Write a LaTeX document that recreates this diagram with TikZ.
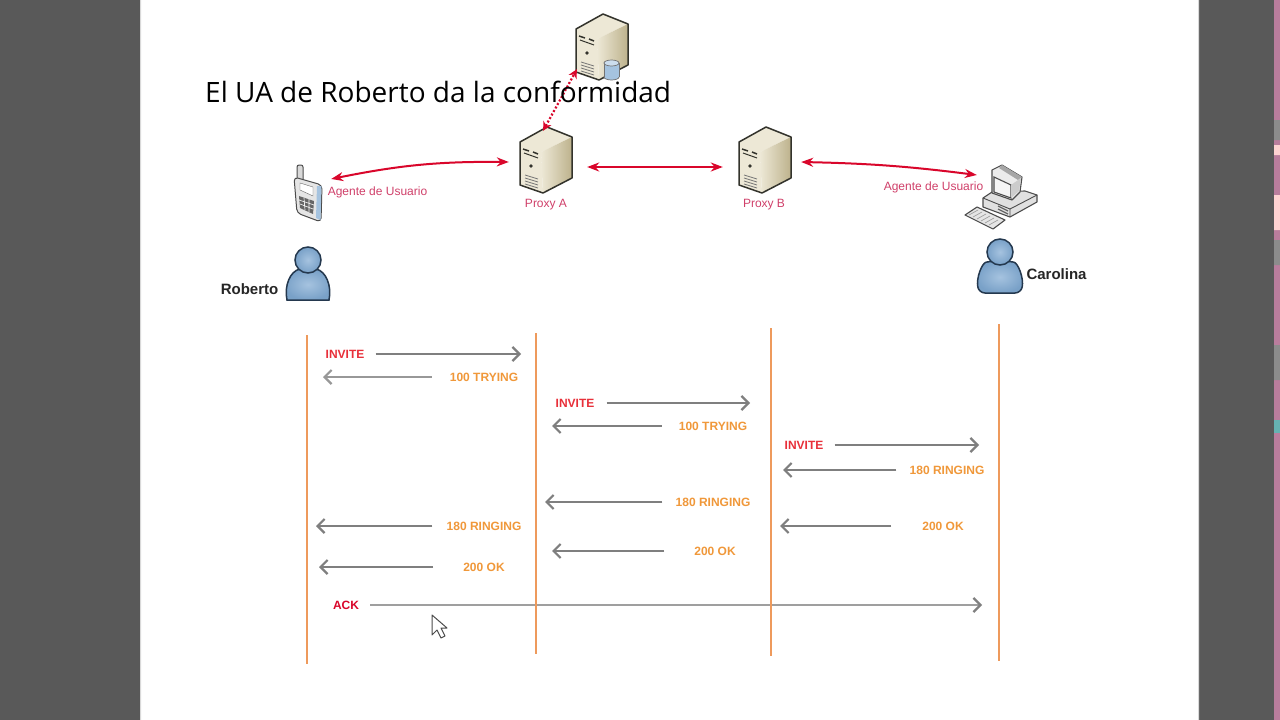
\documentclass[tikz,border=0pt]{standalone}
\usepackage{fontspec}
\setmainfont{Liberation Sans}
\newfontfamily\titlefont{Open Sans}
\usetikzlibrary{arrows.meta}
\definecolor{slidegray}{HTML}{595959}
\definecolor{lifeline}{HTML}{EE9A5C}
\definecolor{msggray}{HTML}{7F7F7F}
\definecolor{linkred}{HTML}{D9062B}
\definecolor{invitered}{HTML}{E8303A}
\definecolor{replyorange}{HTML}{F0983A}
\definecolor{proxypink}{HTML}{D0406A}
\definecolor{boxfront}{HTML}{EDE8D6}
\definecolor{boxside}{HTML}{BDB28C}
\definecolor{boxedge}{HTML}{33332C}
\definecolor{userblue}{HTML}{7FA9D2}
\definecolor{useredge}{HTML}{24384E}
\tikzset{
  x=1pt,y=-1pt,
  invitelabel/.style={inner sep=0pt,text=invitered,font=\fontsize{12}{12}\selectfont\bfseries},
  replylabel/.style={inner sep=0pt,text=replyorange,font=\fontsize{12}{12}\selectfont\bfseries},
  redlabel/.style={inner sep=0pt,text=proxypink,font=\fontsize{12}{12}\selectfont},
  namelabel/.style={inner sep=0pt,text=black!85,font=\fontsize{15}{15}\selectfont\bfseries},
  icon/.style={inner sep=0pt,minimum width=#1},
  lifebar/.style={lifeline,line width=2.8pt},
  msg/.style={msggray,line width=2pt,-{Straight Barb[length=7pt,width=14pt,line width=2.2pt]}},
  msgthin/.style={msggray!75,line width=1.1pt,-{Straight Barb[msggray,length=7pt,width=14pt,line width=2.2pt]}},
  redlink/.style={linkred,line width=2pt,{Stealth[length=12pt,width=9pt]}-{Stealth[length=12pt,width=9pt]}},
  server/.pic={
    \fill[boxfront] (-26,-18) -- (1,-33) -- (26,-23) -- (-5,-8) -- (-3,33) -- (-26,25) -- cycle;
    \shade[left color=boxfront,right color=boxside] (-5,-8) -- (26,-23) -- (26,18) -- (-3,33) -- cycle;
    \draw[boxedge,line width=1.5pt,line join=round] (-26,-18) -- (1,-33) -- (26,-23) -- (26,18) -- (-3,33) -- (-26,25) -- cycle;
    \draw[boxedge,line width=1.5pt] (-23,-11) -- (-17,-9) (-13,-8) -- (-8,-6);
    \draw[boxedge,line width=1pt] (-22,-7) -- (-8,-2);
    \fill[boxedge] (-15,6) circle (1.8);
    \draw[black!55,line width=.8pt] (-21,15) -- (-8,19) (-21,18) -- (-8,22) (-21,21) -- (-8,25) (-21,24) -- (-8,28);
  },
  phone/.pic={
    \draw[black!70,fill=black!15,line width=1pt,rounded corners=2pt] (-11,-16) -- (-11,-29) -- (-5,-29) -- (-5,-14);
    \draw[black!70,fill=black!10,line width=1pt,rounded corners=4pt] (-14,-17) -- (14,-9) -- (13,28) -- (-11,19) -- cycle;
    \fill[userblue!70] (9,-8) -- (13.5,-8) -- (12.5,26) -- (8,24) -- cycle;
    \draw[black!60,fill=white] (-8,-11) -- (5,-7) -- (5,2) -- (-8,-4) -- cycle;
    \fill[black!60] (-9,2) -- (6,7) -- (5,20) -- (-8,14) -- cycle;
    \draw[white,line width=.6pt] (-9,6) -- (6,11) (-8,10) -- (5,15) (-4,4) -- (-3,16) (1,5) -- (1,18);
  },
  computer/.pic={
    \draw[black!70,fill=black!12,line width=1.1pt,line join=round] (-17,1) -- (-8,-5) -- (25,-6) -- (37,-2) -- (37,5) -- (10,20) -- (-17,10) -- cycle;
    \draw[black!70,line width=.9pt] (-17,1) -- (10,12) -- (37,-2) (10,12) -- (10,20);
    \draw[black!60,line width=1.2pt] (-2,9) -- (8,14) (-2,12) -- (8,17);
    \draw[black!70,fill=black!8,line width=1.1pt,line join=round] (-8,-27) -- (2,-32) -- (22,-20) -- (20,-5) -- (12,3) -- (-8,-4) -- cycle;
    \fill[black!35] (2,-32) -- (22,-20) -- (18,-17) -- (-1,-29) -- cycle;
    \draw[black!70,fill=black!4,line width=1.1pt] (-6,-20) -- (11,-12) -- (11,1) -- (-6,-5) -- cycle;
    \fill[black!20] (11,-12) -- (21,-19) -- (19,-6) -- (11,1) -- cycle;
    \draw[black!70,fill=black!10,line width=1.1pt,line join=round] (-35,18) -- (-23,10) -- (5,23) -- (-7,32) -- cycle;
    \draw[black!40,line width=.6pt] (-31,18) -- (-22,13) (-27,20) -- (-18,15) (-23,22) -- (-14,17) (-19,24) -- (-10,19) (-15,26) -- (-6,21) (-11,28) -- (-2,23);
  },
  person/.pic={
    \draw[useredge,inner color=userblue!70!white,outer color=userblue!95!black,line width=1.5pt] (-21,#1) .. controls (-24,26) and (-18,11) .. (-8,9) -- (8,9) .. controls (18,11) and (24,26) .. (21,#1) -- cycle;
    \draw[useredge,inner color=userblue!70!white,outer color=userblue!95!black,line width=1.5pt,sharp corners] (0,0) circle (13);
  },
}
\begin{document}
\begin{tikzpicture}
  \useasboundingbox (0,0) rectangle (1280,720);
  \fill[slidegray] (0,0) rectangle (1280,720);
  \fill[white] (141,0) rectangle (1198,720);
  \fill[black!15] (140,0) rectangle (141,720) (1198,0) rectangle (1199,720);
  % noise on the right edge
  \fill[violet!35!pink!70!gray] (1274,0) rectangle (1280,720);
  \fill[black!45] (1274,120) rectangle (1280,140) (1274,240) rectangle (1280,265) (1274,345) rectangle (1280,380);
  \fill[teal!60!white] (1274,420) rectangle (1280,433);
  \fill[pink!70!white] (1274,145) rectangle (1280,155) (1274,195) rectangle (1280,230);

  % icons
  \pic at (602,47) {server};
  \draw[black!55,line width=.7pt,fill=userblue!70!white] (611.5,77) ellipse (7.5 and 3);
  \fill[userblue!70!white] (604,63) rectangle (619,77);
  \draw[black!55,line width=.7pt] (604,63) -- (604,77) (619,63) -- (619,77);
  \draw[black!55,line width=.7pt,fill=userblue!40!white] (611.5,63) ellipse (7.5 and 3);
  \pic at (546,160) {server};
  \pic at (765,160) {server};
  \pic at (308,194) {phone};
  \pic at (1000,197) {computer};
  \pic at (308,260) {person={40}};
  \pic[rounded corners=6pt] at (1000,252) {person={41}};

  % hooks for the links
  \node[icon=44pt] (phone) at (309,179) {};
  \node[icon=78pt] (proxyA) at (548,162) {};
  \node[icon=78pt] (proxyB) at (762,162) {};
  \node[icon=70pt] (pc) at (1012,175) {};
  \node[inner sep=0pt,minimum size=0pt] (database) at (577,69) {};
  \node[inner sep=0pt,minimum size=0pt] (proxyAtop) at (543,131) {};

  \draw[redlink] (phone.east) to[bend left=6] (proxyA.west);
  \draw[redlink] ([yshift=-5pt]proxyA.east) -- ([yshift=-5pt]proxyB.west);
  \draw[redlink] (proxyB.east) to[bend left=3] (pc.west);
  \draw[redlink,dotted,line width=2.2pt,{Stealth[length=9pt,width=9pt]}-{Stealth[length=9pt,width=9pt]}] (proxyAtop) -- (database);

  \node[anchor=west,inner sep=0pt,font=\fontsize{28}{28}\selectfont\titlefont] (title) at (205,92) {El UA de Roberto da la conformidad};

  \node[redlabel] (uaA) at (377.5,192.5) {Agente de Usuario};
  \node[redlabel] (uaB) at (933.5,187.5) {Agente de Usuario};
  \node[redlabel] (nameA) at (546,204.5) {Proxy A};
  \node[redlabel] (nameB) at (764,204.5) {Proxy B};
  \node[namelabel] (roberto) at (249.5,289) {Roberto};
  \node[namelabel] (carolina) at (1056.5,274) {Carolina};

  % lifelines
  \coordinate (robertoTop) at (307,335);
  \coordinate (robertoEnd) at (307,664);
  \coordinate (proxyATop) at (536,333);
  \coordinate (proxyAEnd) at (536,654);
  \coordinate (proxyBTop) at (771,328);
  \coordinate (proxyBEnd) at (771,656);
  \coordinate (carolinaTop) at (999,324);
  \coordinate (carolinaEnd) at (999,661);

  % messages
  \node[invitelabel] (inviteA) at (345,354) {INVITE};
  \coordinate (inviteAend) at (521,354);
  \draw[msg,shorten <=11pt] (inviteA.east) -- (inviteAend);
  \node[replylabel] (tryingA) at (484,377) {100 TRYING};
  \coordinate (tryingAend) at (323,377);
  \draw[msg,msggray!80,line width=1.4pt,shorten <=18pt] (tryingA.west) -- (tryingAend);

  \node[invitelabel] (inviteB) at (575,403) {INVITE};
  \coordinate (inviteBend) at (750,403);
  \draw[msg,shorten <=12pt] (inviteB.east) -- (inviteBend);
  \node[replylabel] (tryingB) at (713,426) {100 TRYING};
  \coordinate (tryingBend) at (552,426);
  \draw[msg,shorten <=17pt] (tryingB.west) -- (tryingBend);

  \node[invitelabel] (inviteC) at (804,445) {INVITE};
  \coordinate (inviteCend) at (979,445);
  \draw[msg,shorten <=11pt] (inviteC.east) -- (inviteCend);
  \node[replylabel] (ringingC) at (947,470) {180 RINGING};
  \coordinate (ringingCend) at (783,470);
  \draw[msg,shorten <=13pt] (ringingC.west) -- (ringingCend);

  \node[replylabel] (ringingB) at (713,502) {180 RINGING};
  \coordinate (ringingBend) at (545,502);
  \draw[msg,shorten <=13pt] (ringingB.west) -- (ringingBend);
  \node[replylabel] (ringingA) at (484,526) {180 RINGING};
  \coordinate (ringingAend) at (316,526);
  \draw[msg,shorten <=14pt] (ringingA.west) -- (ringingAend);

  \node[replylabel] (okC) at (943,526) {200 OK};
  \coordinate (okCend) at (780,526);
  \draw[msg,shorten <=31pt] (okC.west) -- (okCend);
  \node[replylabel] (okB) at (715,551) {200 OK};
  \coordinate (okBend) at (552,551);
  \draw[msg,shorten <=30pt] (okB.west) -- (okBend);
  \node[replylabel] (okA) at (484,567) {200 OK};
  \coordinate (okAend) at (319,567);
  \draw[msg,shorten <=30pt] (okA.west) -- (okAend);

  \node[invitelabel,text=linkred] (ack) at (346,605) {ACK};
  \coordinate (ackEnd) at (982,605);
  \draw[msgthin,shorten <=11pt] (ack.east) -- (ackEnd);

  \draw[lifebar] (robertoTop) -- (robertoEnd);
  \draw[lifebar] (proxyATop) -- (proxyAEnd);
  \draw[lifebar] (proxyBTop) -- (proxyBEnd);
  \draw[lifebar] (carolinaTop) -- (carolinaEnd);

  % mouse pointer
  \draw[black!70,fill=white,line width=1pt,line join=round] (432,615) -- (432,635) -- (437,630) -- (441,638) -- (445,636) -- (441,628) -- (447,628) -- cycle;
\end{tikzpicture}
\end{document}
